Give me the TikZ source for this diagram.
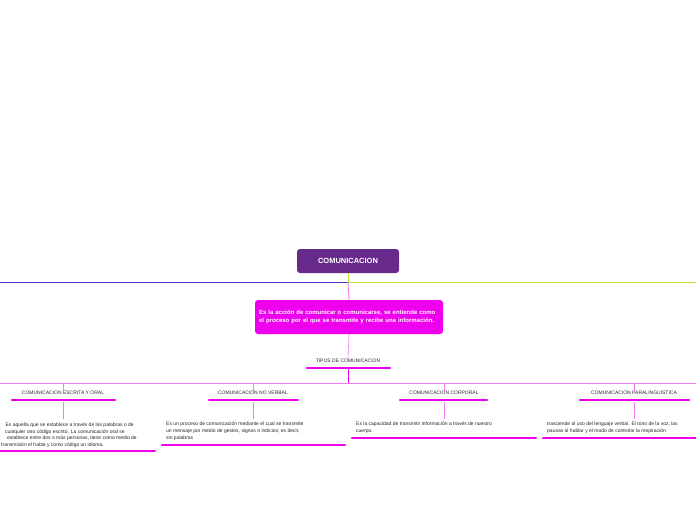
\documentclass[tikz,border=0pt]{standalone}
\usepackage{fontspec}
\setmainfont{Liberation Sans}
\definecolor{purp}{HTML}{682A8A}
\definecolor{mag}{HTML}{EE00EE}
\definecolor{lmag}{HTML}{F27AF2}
\definecolor{blu}{HTML}{4B3FD6}
\definecolor{lime}{HTML}{B8E02C}
\begin{document}
\begin{tikzpicture}[x=1pt,y=-1pt,
  txt/.style={font=\fontsize{5}{7}\selectfont,inner sep=0pt,text=black!85},
  ul/.style={mag,line width=2.2pt,line cap=round},
  thin/.style={lmag,line width=0.6pt}]
\useasboundingbox (0,0) rectangle (696,520);
\clip (0,0) rectangle (696,520);
\node[fill=purp,rounded corners=3pt,minimum width=102pt,minimum height=24pt,text=white,font=\bfseries\fontsize{7.5}{9}\selectfont] (root) at (348,261) {COMUNICACION};
\coordinate (j) at (348,282);
\draw[blu,line width=0.9pt] (0,282) -- (j);
\draw[lime,line width=0.9pt] (j) -- (696,282);
\draw[lime,line width=0.9pt] (root.south) -- (j);
\node[fill=mag,rounded corners=3pt,minimum width=188pt,minimum height=34pt,text=white,font=\bfseries\fontsize{6}{8}\selectfont,align=left,text width=180pt] (def) at (349,317) {Es la acción de comunicar o comunicarse, se entiende como el proceso por el que se transmite y recibe una información.};
\draw[lmag,line width=0.9pt] (j) -- (def.north);
\node[txt] (tipos) at (348,361) {TIPOS DE COMUNICACION};
\draw[thin] (def.south) -- (tipos.north);
\draw[ul] (307,368) coordinate (tu) -- (390,368);
\draw[mag,line width=0.9pt] (348,368) -- (348,383);
\draw[thin] (0,383) -- (696,383);
% titles
\foreach \x/\t/\a/\b/\n in {63/COMUNICACION ESCRITA Y ORAL/12/115/a,253/COMUNICACION NO VERBAL/209/298/b,444/COMUNICACION CORPORAL/400/487/c,634/COMUNICACION PARALINGUISTICA/580/689/d}{
  \node[txt] (t\n) at (\x,393) {\t};
  \draw[thin] (\x,383) -- (t\n.north);
  \draw[ul] (\a,400) -- (\b,400);
  \draw[thin] (\x,402) -- (\x,419);
}
\node[txt,anchor=east] (a1) at (134,425) {Es aquella que se establece a través de las palabras o de};
\node[txt,anchor=east] (a2) at (125,432) {cualquier otro código escrito. La comunicación oral se};
\node[txt,anchor=east] (a3) at (137,438.5) {establece entre dos o más personas, tiene como medio de};
\node[txt,anchor=east] (a4) at (104,445) {transmisión el habla y como código un idioma.};
\draw[ul] (0,451) -- (155,451);
\node[txt,anchor=north west,align=left] (b1) at (166,422) {Es un proceso de comunicación mediante el cual se transmite\\un mensaje por medio de gestos, signos o indicios; es decir,\\sin palabras};
\draw[ul] (162,445) -- (345,445);
\node[txt,anchor=north west,align=left] (c1) at (356,422) {Es la capacidad de transmitir información a través de nuestro\\cuerpo.};
\draw[ul] (352,438) -- (536,438);
\node[txt,anchor=north west,align=left] (d1) at (547,422) {trasciende al uso del lenguaje verbal. El tono de la voz, las\\pausas al hablar y el modo de controlar la respiración};
\draw[ul] (543,438) -- (700,438);
\end{tikzpicture}
\end{document}
